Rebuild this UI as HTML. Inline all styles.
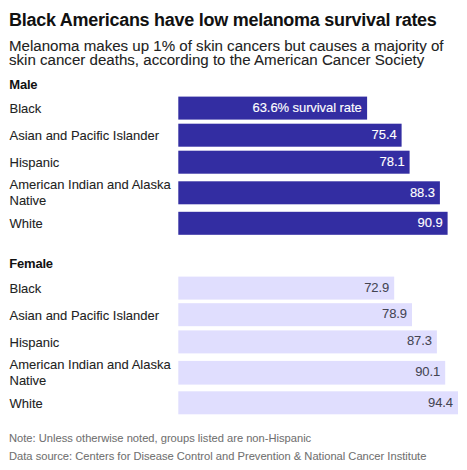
<!DOCTYPE html>
<html>
<head>
<meta charset="utf-8">
<style>
html,body{margin:0;padding:0;background:#fff;width:467px;height:470px;overflow:hidden;}
body{position:relative;font-family:"Liberation Sans",sans-serif;color:#1d1d1d;}
.t{position:absolute;white-space:nowrap;line-height:1;}
.title{left:9px;top:11px;font-size:18px;font-weight:700;color:#111;letter-spacing:-0.27px;}
.sub{left:9px;font-size:15.1px;color:#222;-webkit-text-stroke:0.08px #222;}
.hd{left:9.3px;font-size:13px;font-weight:700;color:#111;letter-spacing:-0.2px;}
.lb{left:9.5px;font-size:13px;color:#222;-webkit-text-stroke:0.08px #222;}
.bars{position:absolute;left:0;top:0;}
.v{position:absolute;width:200px;text-align:right;letter-spacing:-0.08px;line-height:21px;font-size:13px;white-space:nowrap;}
.vm{color:#fff;-webkit-text-stroke:0.12px #fff;}
.vf{color:#444452;-webkit-text-stroke:0.06px #444452;line-height:22px;}
.note{left:9px;font-size:11.15px;color:#707070;-webkit-text-stroke:0.06px #707070;}
</style>
</head>
<body>
<div class="t title">Black Americans have low melanoma survival rates</div>
<div class="t sub" style="top:38px">Melanoma makes up 1% of skin cancers but causes a majority of</div>
<div class="t sub" style="top:51.9px">skin cancer deaths, according to the American Cancer Society</div>

<div class="t hd" style="top:77.5px">Male</div>
<div class="t lb" style="top:102px">Black</div>
<div class="t lb" style="top:129px">Asian and Pacific Islander</div>
<div class="t lb" style="top:156px">Hispanic</div>
<div class="t lb" style="top:178px">American Indian and Alaska</div>
<div class="t lb" style="top:193.8px">Native</div>
<div class="t lb" style="top:217px">White</div>


<div class="t hd" style="top:257px">Female</div>
<div class="t lb" style="top:282px">Black</div>
<div class="t lb" style="top:309px">Asian and Pacific Islander</div>
<div class="t lb" style="top:336px">Hispanic</div>
<div class="t lb" style="top:358px">American Indian and Alaska</div>
<div class="t lb" style="top:373.8px">Native</div>
<div class="t lb" style="top:397px">White</div>


<svg class="bars" width="467" height="470" viewBox="0 0 467 470">
<rect x="178.3" y="96.6" width="188.8" height="23" fill="#332da2"/>
<rect x="178.3" y="123.7" width="223.3" height="23" fill="#332da2"/>
<rect x="178.3" y="150.7" width="231.3" height="23" fill="#332da2"/>
<rect x="178.3" y="181.3" width="261.6" height="23" fill="#332da2"/>
<rect x="178.3" y="211.8" width="269.3" height="23" fill="#332da2"/>
<rect x="178.3" y="276.6" width="215.9" height="23" fill="#e0defe"/>
<rect x="178.3" y="303.2" width="233.7" height="23" fill="#e0defe"/>
<rect x="178.3" y="330.4" width="258.6" height="23" fill="#e0defe"/>
<rect x="178.3" y="360.9" width="266.9" height="23.7" fill="#e0defe"/>
<rect x="178.3" y="391.3" width="279.7" height="23" fill="#e0defe"/>
</svg>
<div class="v vm" style="top:96.6px;left:161.6px">63.6% survival rate</div>
<div class="v vm" style="top:123.7px;left:196.6px">75.4</div>
<div class="v vm" style="top:150.7px;left:204.6px">78.1</div>
<div class="v vm" style="top:181.5px;left:234.9px">88.3</div>
<div class="v vm" style="top:211.8px;left:242.6px">90.9</div>
<div class="v vf" style="top:276.6px;left:189.2px">72.9</div>
<div class="v vf" style="top:303.2px;left:207.0px">78.9</div>
<div class="v vf" style="top:330.0px;left:231.9px">87.3</div>
<div class="v vf" style="top:361.1px;left:240.2px">90.1</div>
<div class="v vf" style="top:391.5px;left:253.0px">94.4</div>
<div class="t note" style="top:433px">Note: Unless otherwise noted, groups listed are non-Hispanic</div>
<div class="t note" style="top:450.5px">Data source: Centers for Disease Control and Prevention &amp; National Cancer Institute</div>
</body>
</html>
